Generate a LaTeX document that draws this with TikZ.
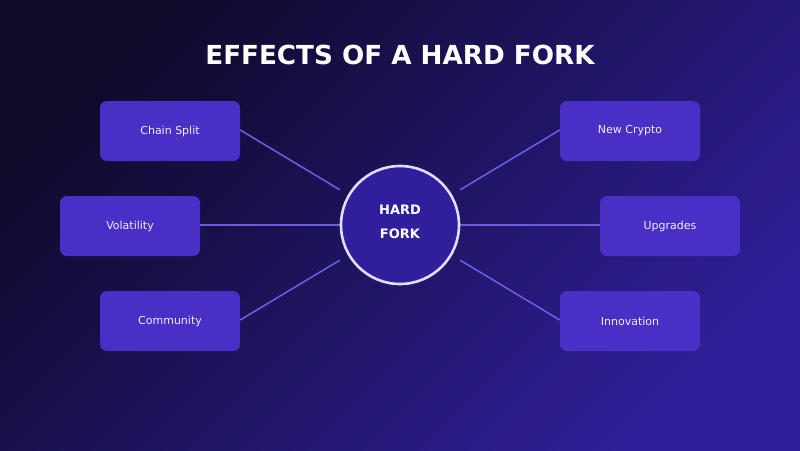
\documentclass[tikz,border=0pt]{standalone}
\usepackage{fontspec}
\setmainfont{DejaVu Sans}
\usepackage{tikz}
\usetikzlibrary{positioning}
\definecolor{bgdark}{HTML}{0D0A2A}
\definecolor{bglight}{HTML}{2F1F98}
\definecolor{boxfill}{HTML}{4A2FC6}
\definecolor{hubfill}{HTML}{2F1F9C}
\definecolor{hubline}{HTML}{E2DDFF}
\definecolor{linkline}{HTML}{6B5BE2}

\begin{document}
\begin{tikzpicture}[x=1pt,y=-1pt]
\tikzstyle{every node}+=[inner sep=0pt]
\tikzstyle{effect}=[fill=boxfill, rounded corners=7pt, minimum width=140pt, minimum height=60pt, text=white!92!boxfill, font=\fontsize{11}{12}\selectfont]
\tikzstyle{link}=[linkline, line width=1.6pt]
\shade [left color=bgdark, right color=bglight, shading angle=45] (0,0) rectangle (800,450);
\useasboundingbox (0,0) rectangle (800,450);
\draw (400,55) node [text=white, font=\fontsize{26.2}{30}\selectfont\bfseries] (title) {EFFECTS OF A HARD FORK};
% effects
\node [effect] (cs) at (170,131) {Chain Split};
\node [effect] (vo) at (130,226) {Volatility};
\node [effect] (co) at (170,321) {Community};
\node [effect] (nc) at (630,131) {New Crypto};
\node [effect] (up) at (670,226) {Upgrades};
\node [effect] (in) at (630,321) {Innovation};
% hub
\node [minimum width=120pt, minimum height=70pt] (hf) at (400,225) {};
\draw [link] (cs.east |- 0,130) -- (hf.north west);
\draw [link] (vo.east |- 0,225) -- (hf.west);
\draw [link] (co.east |- 0,320) -- (hf.south west);
\draw [link] (nc.west |- 0,130) -- (hf.north east);
\draw [link] (up.west |- 0,225) -- (hf.east);
\draw [link] (in.west |- 0,320) -- (hf.south east);
\draw [hubline, fill=hubfill, line width=2.6pt] (hf.center) circle (59pt);
\node [text=white, align=center, font=\fontsize{13}{24}\selectfont\bfseries] (hflabel) at (400,222) {HARD\\FORK};
\end{tikzpicture}
\end{document}
